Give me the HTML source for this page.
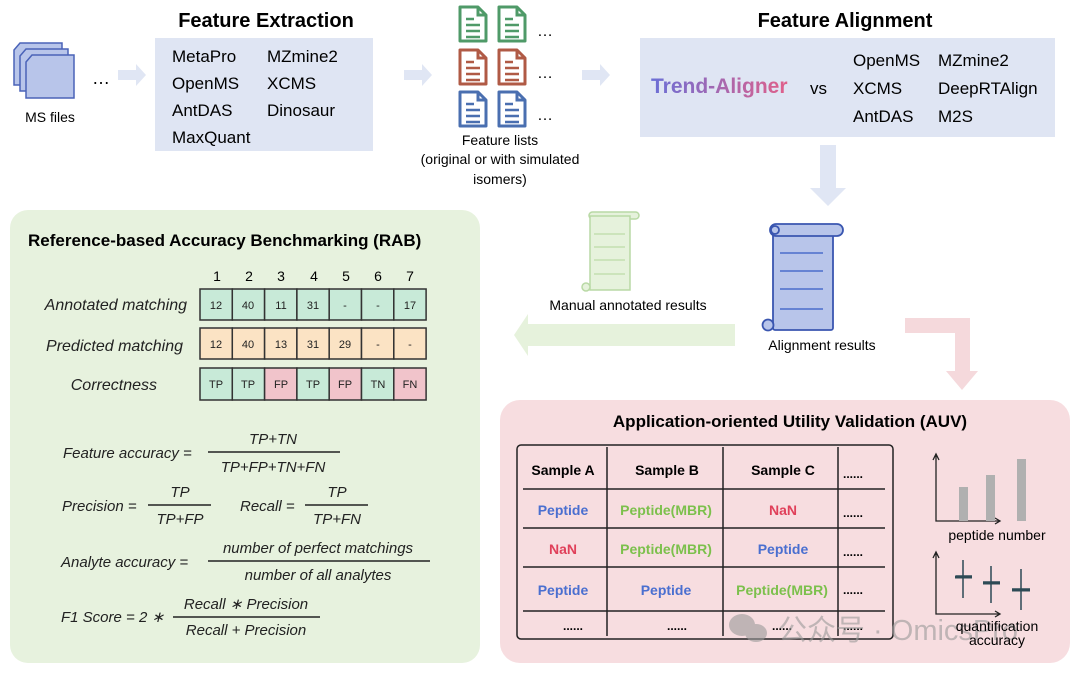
<!DOCTYPE html>
<html><head><meta charset="utf-8"><style>
html,body{margin:0;padding:0;background:#fff;}
svg{display:block;font-family:"Liberation Sans",Arial,sans-serif;}
</style></head><body>
<svg width="1080" height="673" viewBox="0 0 1080 673" xmlns="http://www.w3.org/2000/svg">
<defs>
<linearGradient id="tg" x1="0" x2="1"><stop offset="0" stop-color="#6b6fd6"/><stop offset="1" stop-color="#e0608a"/></linearGradient>
<g id="doc"><path d="M2 2 H20 L28 10 V36 H2 Z" fill="#fff" stroke="currentColor" stroke-width="3" stroke-linejoin="round"/><path d="M20 2 V10 H28" fill="none" stroke="currentColor" stroke-width="3"/><path d="M8 14 H16 M8 20 H22 M8 26 H22 M8 32 H22" stroke="currentColor" stroke-width="2.5"/></g>
</defs>
<!-- MS files -->
<g fill="#b8c5ea" stroke="#4a63b8" stroke-width="1.5">
<path d="M14 50 L20 43 H62 V85 H14 Z"/><path d="M20 56 L26 49 H68 V91 H20 Z"/><path d="M26 62 L32 55 H74 V98 H26 Z"/>
</g>
<text x="92" y="84" font-size="18">…</text>
<text x="50" y="122" font-size="14" text-anchor="middle">MS files</text>
<!-- arrows -->
<g fill="#e0e6f4">
<path d="M118 70 H136 V64 L146 75 L136 86 V80 H118 Z"/>
<path d="M404 70 H422 V64 L432 75 L422 86 V80 H404 Z"/>
<path d="M582 70 H600 V64 L610 75 L600 86 V80 H582 Z"/>
<path d="M820 145 H836 V188 H846 L828 206 L810 188 H820 Z"/>
<path d="M898 537 H912 V531 L922 541 L912 551 V545 H898 Z"/>
</g>
<!-- Feature Extraction -->
<text x="266" y="27" font-size="20" font-weight="bold" text-anchor="middle">Feature Extraction</text>
<rect x="155" y="38" width="218" height="113" fill="#dfe5f3"/>
<g font-size="17"><text x="172" y="62">MetaPro</text><text x="267" y="62">MZmine2</text>
<text x="172" y="89">OpenMS</text><text x="267" y="89">XCMS</text>
<text x="172" y="116">AntDAS</text><text x="267" y="116">Dinosaur</text>
<text x="172" y="143">MaxQuant</text></g>
<!-- docs -->
<use href="#doc" x="458" y="5" color="#4f9a68"/><use href="#doc" x="497" y="5" color="#4f9a68"/>
<use href="#doc" x="458" y="48" color="#b05a45"/><use href="#doc" x="497" y="48" color="#b05a45"/>
<use href="#doc" x="458" y="90" color="#4a6fb0"/><use href="#doc" x="497" y="90" color="#4a6fb0"/>
<g font-size="16"><text x="537" y="36">…</text><text x="537" y="78">…</text><text x="537" y="120">…</text></g>
<g font-size="14" text-anchor="middle"><text x="500" y="145">Feature lists</text><text x="500" y="164">(original or with simulated</text><text x="500" y="184">isomers)</text></g>
<!-- Feature alignment -->
<text x="845" y="27" font-size="20" font-weight="bold" text-anchor="middle">Feature Alignment</text>
<rect x="640" y="38" width="415" height="99" fill="#dfe5f3"/>
<text x="651" y="93" font-size="21" font-weight="bold" fill="url(#tg)">Trend-Aligner</text>
<text x="810" y="94" font-size="17">vs</text>
<g font-size="17"><text x="853" y="66">OpenMS</text><text x="938" y="66">MZmine2</text>
<text x="853" y="94">XCMS</text><text x="938" y="94">DeepRTAlign</text>
<text x="853" y="122">AntDAS</text><text x="938" y="122">M2S</text></g>
<!-- scrolls -->
<g fill="#e6f2dc" stroke="#b9d9a5" stroke-width="1.5">
<rect x="589" y="212" width="50" height="7" rx="3.5"/>
<rect x="590" y="216" width="40" height="74"/>
<circle cx="586" cy="287" r="4"/>
<path d="M594 234 H625 M594 247 H625 M594 260 H625 M594 274 H625" stroke="#c4e0b0"/>
</g>
<text x="628" y="310" font-size="14" text-anchor="middle">Manual annotated results</text>
<g fill="#b8c5ea" stroke="#3a56b0" stroke-width="1.8">
<rect x="773" y="230" width="60" height="100" rx="2"/>
<rect x="770" y="224" width="73" height="12" rx="6"/>
<circle cx="775" cy="230" r="4"/>
<circle cx="768" cy="325" r="5.5"/>
</g>
<path d="M780 253 H823 M780 271 H823 M780 289 H823 M780 309 H823" stroke="#5a7ad0" stroke-width="1.8"/>
<text x="822" y="350" font-size="14" text-anchor="middle">Alignment results</text>
<!-- green arrow -->
<path d="M735 324 H528 V314 L514 335 L528 356 V346 H735 Z" fill="#e6f2dc"/>
<!-- pink elbow -->
<path d="M905 318 H970 V371 H978 L962 390 L946 371 H955 V333 H905 Z" fill="#f5d9dc"/>
<!-- RAB -->
<rect x="10" y="210" width="470" height="453" rx="18" fill="#e7f2de"/>
<text x="28" y="246" font-size="17" font-weight="bold">Reference-based Accuracy Benchmarking (RAB)</text>
<g font-size="14" text-anchor="middle">
<text x="217" y="281">1</text><text x="249" y="281">2</text><text x="281" y="281">3</text><text x="314" y="281">4</text><text x="346" y="281">5</text><text x="378" y="281">6</text><text x="410" y="281">7</text></g>
<g font-size="16" font-style="italic" text-anchor="end" fill="#222">
<text x="187" y="310">Annotated matching</text>
<text x="183" y="351">Predicted matching</text>
<text x="157" y="390">Correctness</text></g>
<g stroke="#333" stroke-width="1.5">
<g fill="#c8ead8"><rect x="200" y="289" width="32.3" height="31"/><rect x="232.3" y="289" width="32.3" height="31"/><rect x="264.6" y="289" width="32.3" height="31"/><rect x="296.9" y="289" width="32.3" height="31"/><rect x="329.2" y="289" width="32.3" height="31"/><rect x="361.5" y="289" width="32.3" height="31"/><rect x="393.8" y="289" width="32.3" height="31"/></g>
<g fill="#fbe3c4"><rect x="200" y="328" width="32.3" height="31"/><rect x="232.3" y="328" width="32.3" height="31"/><rect x="264.6" y="328" width="32.3" height="31"/><rect x="296.9" y="328" width="32.3" height="31"/><rect x="329.2" y="328" width="32.3" height="31"/><rect x="361.5" y="328" width="32.3" height="31"/><rect x="393.8" y="328" width="32.3" height="31"/></g>
<rect x="200" y="368" width="32.3" height="32" fill="#c8ead8"/><rect x="232.3" y="368" width="32.3" height="32" fill="#c8ead8"/><rect x="264.6" y="368" width="32.3" height="32" fill="#f1c4cb"/><rect x="296.9" y="368" width="32.3" height="32" fill="#c8ead8"/><rect x="329.2" y="368" width="32.3" height="32" fill="#f1c4cb"/><rect x="361.5" y="368" width="32.3" height="32" fill="#c8ead8"/><rect x="393.8" y="368" width="32.3" height="32" fill="#f1c4cb"/>
</g>
<g font-size="11" text-anchor="middle" fill="#222">
<text x="216" y="309">12</text><text x="248" y="309">40</text><text x="281" y="309">11</text><text x="313" y="309">31</text><text x="345" y="309">-</text><text x="378" y="309">-</text><text x="410" y="309">17</text>
<text x="216" y="348">12</text><text x="248" y="348">40</text><text x="281" y="348">13</text><text x="313" y="348">31</text><text x="345" y="348">29</text><text x="378" y="348">-</text><text x="410" y="348">-</text>
<text x="216" y="388">TP</text><text x="248" y="388">TP</text><text x="281" y="388">FP</text><text x="313" y="388">TP</text><text x="345" y="388">FP</text><text x="378" y="388">TN</text><text x="410" y="388">FN</text>
</g>
<!-- formulas -->
<g font-size="15" font-style="italic" fill="#222">
<text x="63" y="458">Feature accuracy =</text>
<text x="273" y="444" text-anchor="middle">TP+TN</text>
<text x="273" y="472" text-anchor="middle">TP+FP+TN+FN</text>
<text x="62" y="511">Precision =</text>
<text x="180" y="497" text-anchor="middle">TP</text>
<text x="180" y="524" text-anchor="middle">TP+FP</text>
<text x="240" y="511">Recall =</text>
<text x="337" y="497" text-anchor="middle">TP</text>
<text x="337" y="524" text-anchor="middle">TP+FN</text>
<text x="61" y="567">Analyte accuracy =</text>
<text x="318" y="553" text-anchor="middle">number of perfect matchings</text>
<text x="318" y="580" text-anchor="middle">number of all analytes</text>
<text x="61" y="622">F1 Score = 2 ∗</text>
<text x="246" y="609" text-anchor="middle">Recall ∗ Precision</text>
<text x="246" y="635" text-anchor="middle">Recall + Precision</text>
</g>
<g stroke="#222" stroke-width="1.5">
<path d="M208 452 H340 M148 505 H211 M305 505 H368 M208 561 H430 M173 617 H320"/></g>
<!-- AUV -->
<rect x="500" y="400" width="570" height="263" rx="20" fill="#f7dde0"/>
<text x="790" y="427" font-size="17" font-weight="bold" text-anchor="middle">Application-oriented Utility Validation (AUV)</text>
<rect x="517" y="445" width="376" height="194" rx="4" fill="none" stroke="#222" stroke-width="1.5"/>
<g stroke="#222" stroke-width="1.5">
<path d="M607 447 V636 M723 447 V636 M838 447 V636 M523 489 H885 M523 528 H885 M523 567 H885 M523 611 H885"/></g>
<g font-size="14" text-anchor="middle" font-weight="bold">
<text x="563" y="475">Sample A</text><text x="667" y="475">Sample B</text><text x="783" y="475">Sample C</text>
<text x="563" y="515" fill="#4a6fd0">Peptide</text><text x="666" y="515" fill="#7cc04c">Peptide(MBR)</text><text x="783" y="515" fill="#e0405a">NaN</text>
<text x="563" y="554" fill="#e0405a">NaN</text><text x="666" y="554" fill="#7cc04c">Peptide(MBR)</text><text x="783" y="554" fill="#4a6fd0">Peptide</text>
<text x="563" y="595" fill="#4a6fd0">Peptide</text><text x="666" y="595" fill="#4a6fd0">Peptide</text><text x="782" y="595" fill="#7cc04c">Peptide(MBR)</text>
</g>
<g font-size="12" font-weight="bold"><text x="843" y="478">......</text><text x="843" y="517">......</text><text x="843" y="556">......</text><text x="843" y="594">......</text>
<text x="563" y="630">......</text><text x="667" y="630">......</text><text x="772" y="630">......</text><text x="843" y="630">......</text></g>
<!-- charts -->
<g stroke="#222" stroke-width="1.3" fill="none">
<path d="M936 455 V521 H1000 M933 460 L936 454 L939 460 M995 518 L1000 521 L995 524"/>
<path d="M936 553 V614 H1000 M933 558 L936 552 L939 558 M995 611 L1000 614 L995 617"/>
</g>
<g fill="#b0b0b0"><rect x="959" y="487" width="9" height="34"/><rect x="986" y="475" width="9" height="46"/><rect x="1017" y="459" width="9" height="62"/></g>
<g stroke="#2d4a55" stroke-width="1.5">
<path d="M963 560 V598 M956 576 H972 M991 566 V603 M983 582 H1000 M1021 569 V610 M1012 589 H1030"/>
<path d="M955 577 H972 M983 583 H1000 M1012 590 H1030" stroke-width="3"/></g>
<text x="997" y="540" font-size="14" text-anchor="middle">peptide number</text>
<!-- watermark -->
<g fill="#9a9a9a" opacity="0.6">
<ellipse cx="742" cy="625" rx="13" ry="11"/><ellipse cx="756" cy="633" rx="11" ry="9"/>
<text x="778" y="640" font-size="29" font-family="Liberation Sans, Noto Sans CJK SC, sans-serif">公众号 · OmicsPro</text>
</g>
<text x="997" y="631" font-size="14" text-anchor="middle">quantification</text>
<text x="997" y="645" font-size="14" text-anchor="middle">accuracy</text>
</svg>
</body></html>
